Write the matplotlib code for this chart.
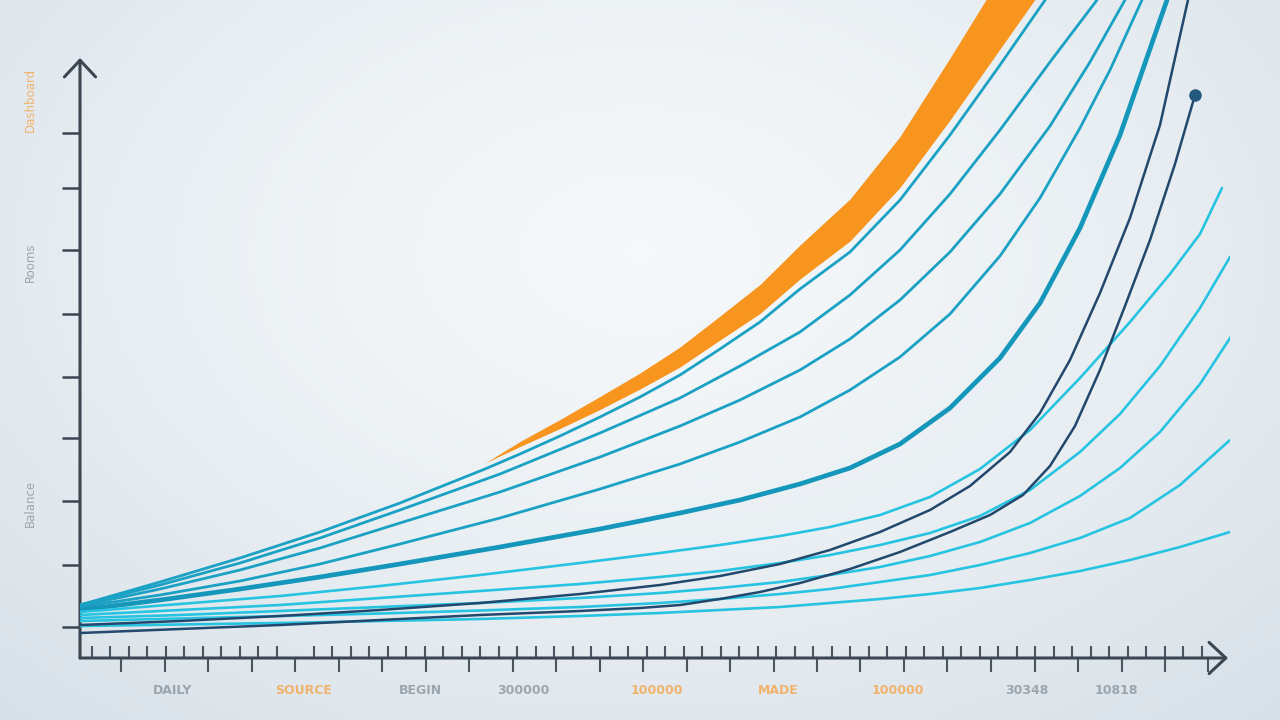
import numpy as np
import matplotlib
matplotlib.use("Agg")
import matplotlib.pyplot as plt

# chart units: x 0..115, y 0..65.8
band_x = [40.5, 44, 48, 52, 56, 60, 64, 68, 72, 77, 82, 87, 92, 97]
band_y = [19.5, 21.4, 23.4, 25.5, 27.7, 30.1, 33.0, 35.9, 39.6, 43.8, 49.6, 56.9, 64.5, 72.0]
band_w = [0.0, 0.5, 0.9, 1.3, 1.6, 2.0, 2.4, 2.9, 3.4, 4.2, 5.1, 6.2, 7.2, 8.0]

l1_x = [0, 8, 16, 24, 32, 40.5, 44, 48, 52, 56, 60, 64, 68, 72, 77, 82, 87, 92, 97]
l1_y = [5.3, 7.6, 10.0, 12.6, 15.5, 18.9, 20.4, 22.2, 24.1, 26.1, 28.3, 30.9, 33.6, 36.9, 40.6, 45.8, 52.3, 59.3, 66.5]
l2_x = [0, 8, 16, 24, 32, 42, 52, 60, 66, 72, 77, 82, 87, 92, 97, 101.7]
l2_y = [5.3, 7.3, 9.5, 12.0, 14.8, 18.4, 22.5, 26.0, 29.2, 32.6, 36.3, 40.8, 46.4, 52.8, 59.6, 65.8]
l3_x = [0, 8, 16, 24, 32, 42, 52, 60, 66, 72, 77, 82, 87, 92, 97, 101, 104.5]
l3_y = [5.2, 6.9, 8.8, 11.0, 13.5, 16.6, 20.1, 23.2, 25.8, 28.8, 31.9, 35.8, 40.6, 46.4, 53.2, 59.6, 65.8]
l4_x = [0, 8, 16, 24, 32, 42, 52, 60, 66, 72, 77, 82, 87, 92, 96, 100, 103, 106.2]
l4_y = [5.1, 6.3, 7.7, 9.4, 11.4, 14.0, 16.9, 19.4, 21.6, 24.1, 26.8, 30.1, 34.4, 40.2, 46.0, 53.0, 58.8, 65.8]
l5_x = [0, 8, 16, 24, 32, 42, 52, 60, 66, 72, 77, 82, 87, 92, 96, 100, 104, 108.7]
l5_y = [4.8, 5.8, 6.9, 8.1, 9.4, 11.1, 12.9, 14.5, 15.8, 17.4, 19.0, 21.4, 25.0, 30.0, 35.5, 43.0, 52.3, 65.8]

n1_x = [0, 10, 20, 30, 40, 50, 58, 64, 70, 75, 80, 85, 89, 93, 96, 99, 102, 105, 108, 110.8]
n1_y = [3.3, 3.7, 4.2, 4.8, 5.5, 6.4, 7.3, 8.2, 9.4, 10.8, 12.6, 14.8, 17.2, 20.6, 24.5, 29.8, 36.5, 44.0, 53.3, 65.8]
n2_x = [0, 10, 20, 30, 40, 50, 56, 60, 64, 68, 72, 77, 82, 87, 91, 94.3, 97, 99.5, 102, 104.5, 107, 109.5, 111.5]
n2_y = [2.5, 2.9, 3.3, 3.8, 4.3, 4.7, 5.0, 5.3, 5.9, 6.6, 7.5, 8.9, 10.6, 12.6, 14.3, 16.3, 19.2, 23.2, 28.8, 35.2, 41.8, 49.4, 56.3]

c1_x = [0, 10, 20, 30, 40, 50, 58, 64, 70, 75, 80, 85, 90, 95, 100, 105, 109, 112, 114.2]
c1_y = [4.6, 5.4, 6.2, 7.2, 8.3, 9.5, 10.5, 11.3, 12.2, 13.1, 14.3, 16.1, 18.9, 22.8, 28.0, 33.6, 38.4, 42.4, 47.0]
c2_x = [0, 10, 20, 30, 40, 50, 58, 64, 70, 75, 80, 85, 90, 95, 100, 104, 108, 112, 115]
c2_y = [4.3, 4.8, 5.3, 6.0, 6.7, 7.4, 8.1, 8.7, 9.5, 10.3, 11.3, 12.5, 14.2, 16.8, 20.6, 24.4, 29.2, 35.0, 40.1]
c3_x = [0, 10, 20, 30, 40, 50, 58, 64, 70, 75, 80, 85, 90, 95, 100, 104, 108, 112, 115.2]
c3_y = [4.0, 4.3, 4.7, 5.1, 5.5, 6.0, 6.5, 7.0, 7.6, 8.3, 9.1, 10.2, 11.6, 13.5, 16.2, 19.0, 22.6, 27.4, 32.3]
c4_x = [0, 10, 20, 30, 40, 50, 58, 64, 70, 75, 80, 85, 90, 95, 100, 105, 110, 115]
c4_y = [3.7, 3.95, 4.2, 4.45, 4.75, 5.1, 5.5, 5.9, 6.4, 6.9, 7.6, 8.3, 9.3, 10.5, 12.0, 14.0, 17.3, 21.8]
c5_x = [0, 10, 20, 30, 40, 50, 58, 64, 70, 75, 80, 85, 90, 95, 100, 105, 110, 115]
c5_y = [3.2, 3.35, 3.5, 3.7, 3.9, 4.2, 4.5, 4.8, 5.1, 5.5, 5.9, 6.4, 7.0, 7.8, 8.7, 9.8, 11.1, 12.6]

y_ticks = [52.5, 47.0, 40.8, 34.4, 28.1, 22.0, 15.7, 9.3, 3.1]
x_major = [4.1 + 4.35 * k for k in range(26)]
x_minor = [1.15 + 1.85 * k for k in range(61)]

x_labels = ["DAILY", "SOURCE", "BEGIN", "300000", "100000", "MADE", "100000", "30348", "10818"]
x_label_pos = [9.3, 22.4, 34.0, 44.3, 57.7, 69.8, 81.8, 94.7, 103.6]
x_label_col = ["#8a96a0", "#f6a54c", "#8a96a0", "#8a96a0", "#f6a54c", "#f6a54c", "#f6a54c", "#8a96a0", "#8a96a0"]

y_labels = ["Dashboard", "Rooms", "Balance"]
y_label_pos = [55.8, 39.6, 15.5]
y_label_col = ["#f6a54c", "#8a96a0", "#8a96a0"]

teal = "#1aa1c4"
cyan = "#27c4e2"
navy = "#22486d"
axis_col = "#3b4652"

fig = plt.figure(figsize=(12.8, 7.2), dpi=100)

# soft background
bg = fig.add_axes([0, 0, 1, 1])
gx, gy = np.meshgrid(np.linspace(0, 1, 256), np.linspace(0, 1, 144))
d = np.sqrt(((gx - 0.5) / 0.8) ** 2 + ((gy - 0.35) / 0.95) ** 2)
d = np.clip(d, 0, 1) ** 1.3
c0 = np.array([0.965, 0.975, 0.982])
c1 = np.array([0.83, 0.87, 0.90])
img = c0[None, None, :] * (1 - d[..., None]) + c1[None, None, :] * d[..., None]
bg.imshow(img, extent=[0, 1, 0, 1], aspect="auto", origin="upper")
bg.axis("off")

ax = fig.add_axes([80 / 1280, 62 / 720, 1150 / 1280, 658 / 720])
ax.set_xlim(0, 115)
ax.set_ylim(0, 65.8)
ax.patch.set_alpha(0)

# orange band
bx = np.array(band_x)
by = np.array(band_y)
bw = np.array(band_w)
ax.fill_between(bx, by - bw / 2, by + bw / 2, color="#f7951f", lw=0, zorder=3)

for xs, ys in [(l1_x, l1_y), (l2_x, l2_y), (l3_x, l3_y), (l4_x, l4_y)]:
    ax.plot(xs, ys, color=teal, lw=2.0, solid_capstyle="round", solid_joinstyle="round", zorder=4)
ax.plot(l5_x, l5_y, color="#1597bb", lw=3.4, solid_capstyle="round", solid_joinstyle="round", zorder=4)

for xs, ys in [(c1_x, c1_y), (c2_x, c2_y), (c3_x, c3_y), (c4_x, c4_y), (c5_x, c5_y)]:
    ax.plot(xs, ys, color=cyan, lw=1.9, solid_capstyle="round", solid_joinstyle="round", zorder=4)

ax.plot(n1_x, n1_y, color=navy, lw=1.8, solid_joinstyle="round", zorder=5)
ax.plot(n2_x, n2_y, color=navy, lw=1.8, solid_joinstyle="round", zorder=5)
ax.plot(n2_x[-1:], n2_y[-1:], "o", color="#23587f", ms=8, zorder=6)

# axes with arrow heads
for s in ax.spines.values():
    s.set_visible(False)
ax.annotate("", xy=(0, 60.0), xytext=(0, 0), annotation_clip=False,
            arrowprops=dict(arrowstyle="->,head_length=0.8,head_width=0.75",
                            mutation_scale=15, lw=2.2, color=axis_col, shrinkA=0, shrinkB=0))
ax.annotate("", xy=(114.8, 0), xytext=(0, 0), annotation_clip=False,
            arrowprops=dict(arrowstyle="->,head_length=0.8,head_width=0.75",
                            mutation_scale=15, lw=2.2, color=axis_col, shrinkA=0, shrinkB=0))

ax.set_yticks(y_ticks)
ax.set_yticklabels([])
ax.tick_params(axis="y", direction="out", length=13, width=1.8, color=axis_col)
ax.set_xticks(x_major)
ax.set_xticks(x_minor, minor=True)
ax.set_xticklabels([])
ax.tick_params(axis="x", which="major", direction="out", length=10, width=1.5, color="#4a5560")
ax.tick_params(axis="x", which="minor", direction="in", length=9, width=1.5, color="#4a5560")

for lab, xp, col in zip(x_labels, x_label_pos, x_label_col):
    ax.text(xp, -3.2, lab, color=col, fontsize=9, ha="center", va="center",
            fontweight="bold", alpha=0.8, clip_on=False)
for lab, yp, col in zip(y_labels, y_label_pos, y_label_col):
    ax.text(-5.0, yp, lab, color=col, fontsize=8.5, ha="center", va="center",
            rotation=90, alpha=0.8, clip_on=False)

fig.savefig("out.png", dpi=100)
